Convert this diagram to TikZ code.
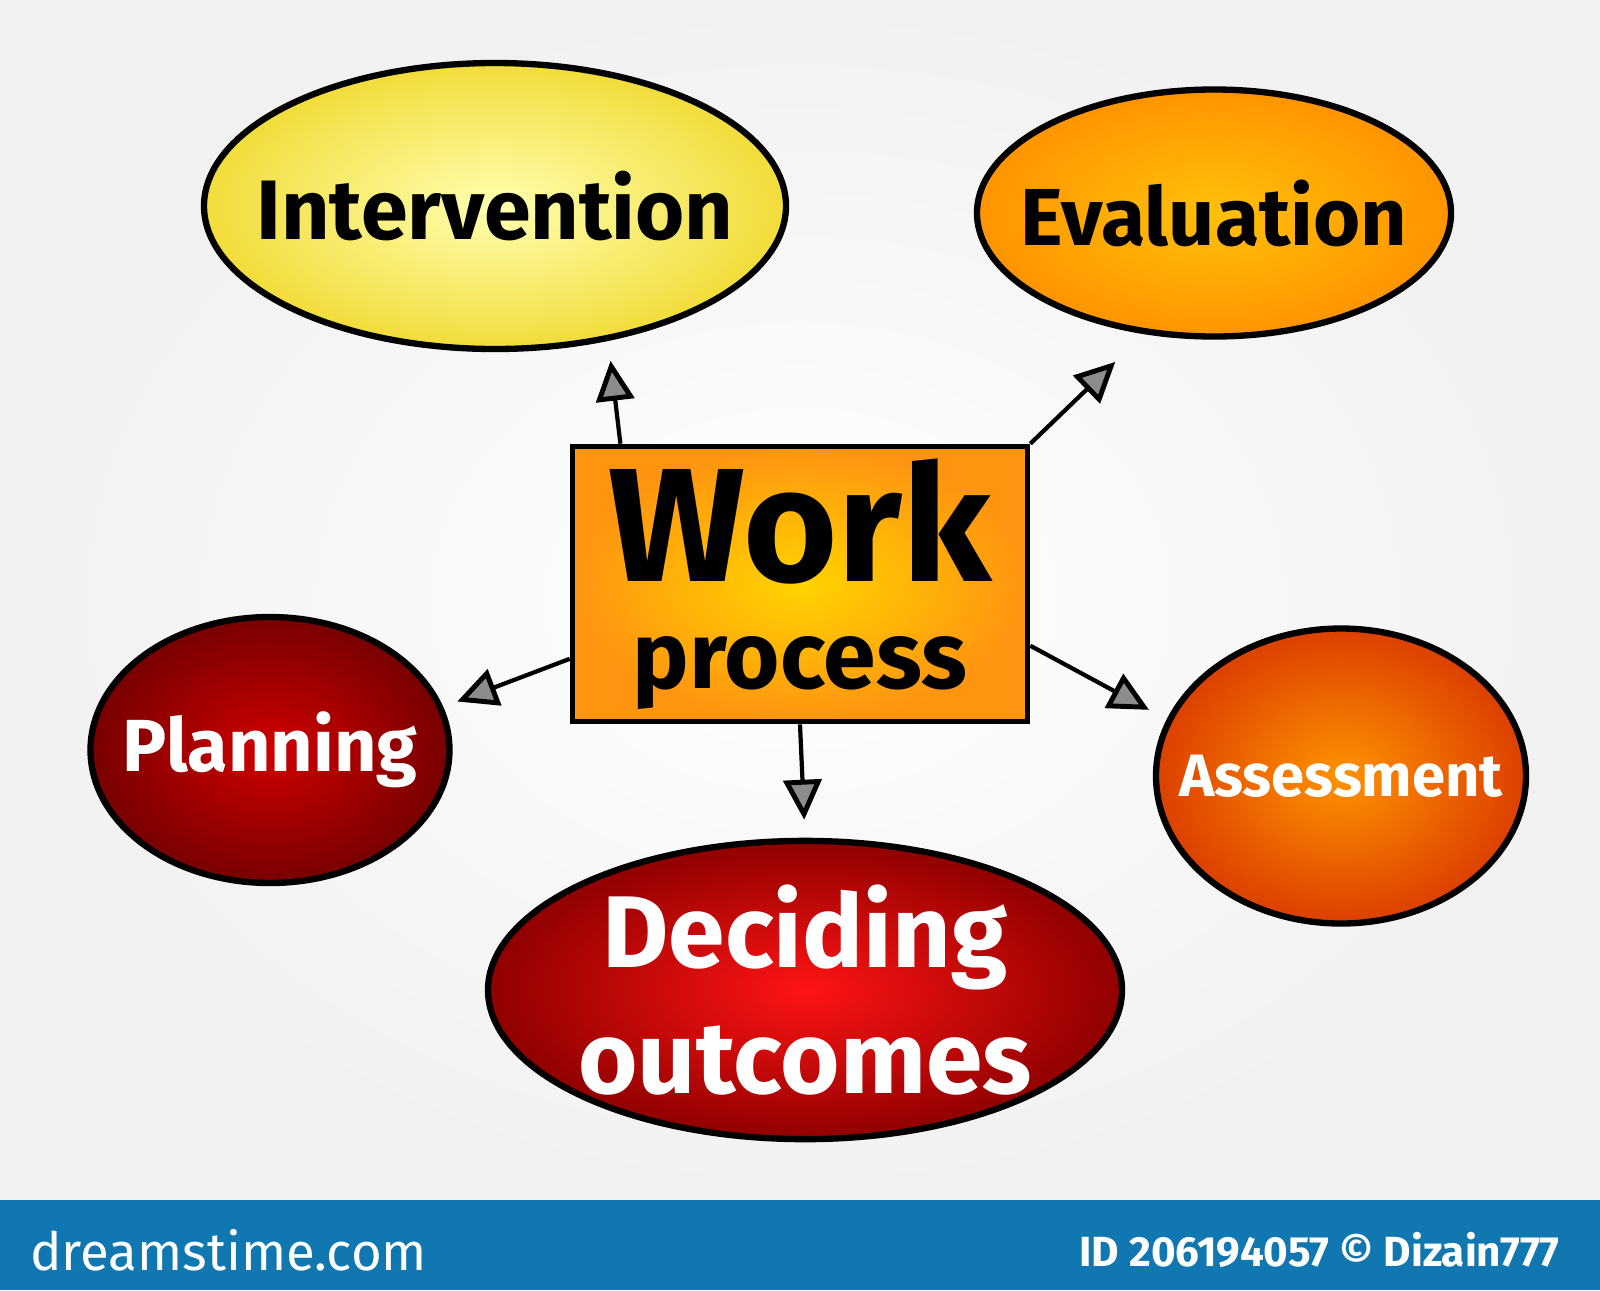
\documentclass[tikz,border=0pt]{standalone}
\usepackage{fontspec}
\setmainfont{Fira Sans}
\usetikzlibrary{shapes.geometric,arrows.meta}

\definecolor{intervIn}{HTML}{FFFFB0}
\definecolor{intervOut}{HTML}{F2DC3A}
\definecolor{evalIn}{HTML}{FFC00A}
\definecolor{evalOut}{HTML}{FF9400}
\definecolor{workIn}{HTML}{FFD400}
\definecolor{workOut}{HTML}{FF9410}
\definecolor{planIn}{HTML}{D00000}
\definecolor{planOut}{HTML}{780000}
\definecolor{assessIn}{HTML}{FF9200}
\definecolor{assessOut}{HTML}{DC4000}
\definecolor{decideIn}{HTML}{FF1414}
\definecolor{decideOut}{HTML}{900000}
\definecolor{bannerblue}{HTML}{1077B0}

% text that does not widen its node
\newcommand{\nowide}[1]{\makebox[0pt]{#1}}

\begin{document}
\begin{tikzpicture}[
    bubble/.style={
        ellipse,
        line width=1.8pt,
        draw=black,
        inner sep=0pt,
        align=center
    },
    centerbox/.style={
        rectangle,
        line width=1.6pt,
        draw=black,
        inner sep=0pt,
        minimum width=4.55cm,
        minimum height=2.75cm,
        align=center,
        inner color=workIn,
        outer color=workOut
    },
    link/.style={
        line width=1.2pt,
        -{Triangle[length=4mm,width=3.8mm,line width=1.4pt,fill=black!45]}
    }
]
\useasboundingbox (0,0) rectangle (16,-12.9);

% Background and banner
\shade[inner color=white, outer color=gray!11] (0,0) rectangle (16,-12.0);
\fill[bannerblue] (0,-12.0) rectangle (16,-12.9);

% Centre box
\node[centerbox] (work) at (8.00,-5.84) {%
    {\bfseries\fontsize{46}{46}\selectfont Work}\\[14pt]
    {\bfseries\fontsize{27}{27}\selectfont process}};

% Outer bubbles
\node[bubble, minimum width=5.82cm, minimum height=2.86cm,
    inner color=intervIn, outer color=intervOut,
    font=\bfseries\fontsize{24}{26}\selectfont] (interv) at (4.95,-2.06) {\nowide{Intervention}};
\node[bubble, minimum width=4.74cm, minimum height=2.47cm,
    inner color=evalIn, outer color=evalOut,
    font=\bfseries\fontsize{23}{26}\selectfont] (eval) at (12.14,-2.13) {\nowide{Evaluation}};
\node[bubble, minimum width=3.59cm, minimum height=2.66cm,
    inner color=planIn, outer color=planOut, text=white,
    font=\bfseries\fontsize{21}{24}\selectfont] (plan) at (2.70,-7.50) {\nowide{Planning}};
\node[bubble, minimum width=3.70cm, minimum height=2.95cm,
    inner color=assessIn, outer color=assessOut, text=white,
    font=\bfseries\fontsize{17}{20}\selectfont] (assess) at (13.41,-7.76) {\nowide{Assessment}};
\node[bubble, minimum width=6.34cm, minimum height=2.86cm,
    inner color=decideIn, outer color=decideOut, text=white,
    font=\bfseries\fontsize{29}{36}\selectfont] (decide) at (8.05,-9.90) {\nowide{Deciding}\\\nowide{outcomes}};

% Arrows from the centre box
\draw[link, shorten >=0.2cm] (work.142) -- (interv.-50);
\draw[link, shorten >=0.4cm] (work.north east) -- (eval.-120);
\draw[link, shorten >=0.15cm] (work.198) -- (plan.14);
\draw[link, shorten >=0.2cm] (work.-15) -- (assess.162);
\draw[link, shorten >=0.18cm] (work.south) -- (decide.north);

% Banner texts
\node[anchor=west, text=white, font=\fontsize{15}{15}\selectfont] (site) at (0.18,-12.5) {dreamstime.com};
\node[anchor=east, text=white, font=\bfseries\fontsize{12}{12}\selectfont] (imgid) at (15.72,-12.5) {ID 206194057 © Dizain777};

\end{tikzpicture}
\end{document}
